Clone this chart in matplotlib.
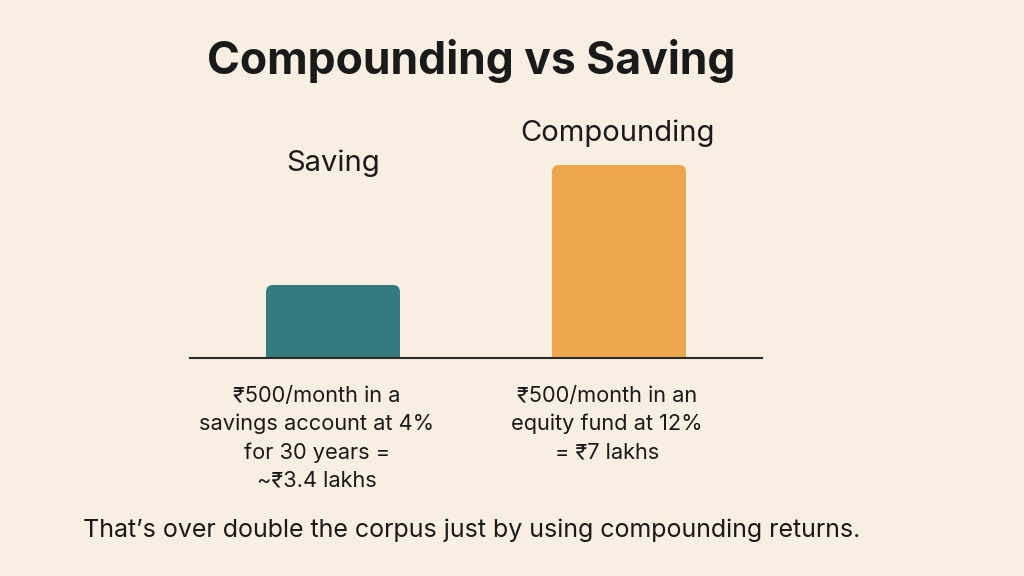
import matplotlib
matplotlib.use("Agg")
import matplotlib.pyplot as plt
from matplotlib.patches import FancyBboxPatch

categories = ["Saving", "Compounding"]
values = [3.4, 7.0]  # lakhs
descriptions = [
    "₹500/month in a\nsavings account at 4%\nfor 30 years =\n~₹3.4 lakhs",
    "₹500/month in an\nequity fund at 12%\n= ₹7 lakhs",
]
title = "Compounding vs Saving"
footer = "That\u2019s over double the corpus just by using compounding returns."

colors = ["#337B80", "#ECA64C"]
bg = "#F8EFE2"
txt = "#1A1A1A"
fam = ["Inter", "DejaVu Sans"]

W, H = 1024, 576
fig = plt.figure(figsize=(W / 100, H / 100), dpi=100, facecolor=bg)

# axes: x 188..762 px, baseline at y=358 px, top at y=100 px
ax = fig.add_axes([190 / W, 1 - 358 / H, 572 / W, 258 / H])
ax.set_facecolor(bg)
ybot, ytop = 1.209, 8.95
ax.set_xlim(-0.5, 1.5)
ax.set_ylim(ybot, ytop)
for s in ["top", "right", "left"]:
    ax.spines[s].set_visible(False)
ax.spines["bottom"].set_color("#2B2B2B")
ax.spines["bottom"].set_linewidth(1.5)
ax.set_xticks([])
ax.set_yticks([])

px_per_x = 572 / 2
bw = 134 / px_per_x
bars = ax.bar(range(len(values)), values, width=bw, color=colors)
px_per_y = 258 / (ytop - ybot)
r_px = 7
for b, c in zip(bars, colors):
    b.set_visible(False)
    p = FancyBboxPatch((b.get_x(), 0), b.get_width(), b.get_height(),
                       boxstyle=f"round,pad=0,rounding_size={r_px / px_per_x}",
                       mutation_aspect=px_per_x / px_per_y,
                       facecolor=c, edgecolor="none", clip_on=True)
    ax.add_patch(p)

fig.text(471 / W, 1 - 61 / H, title, ha="center", va="center",
         fontsize=32, fontweight="bold", color=txt, family=fam)

lab_pos = [(333, 163), (618, 133)]
for (x, y), lab in zip(lab_pos, categories):
    fig.text(x / W, 1 - y / H, lab, ha="center", va="center",
             fontsize=21, color=txt, family=fam)

desc_pos = [(317, 386), (607, 386)]
for (x, y), d in zip(desc_pos, descriptions):
    fig.text(x / W, 1 - y / H, d, ha="center", va="top",
             fontsize=15.7, color=txt, family=fam, linespacing=1.48)

fig.text(472 / W, 1 - 530 / H, footer, ha="center", va="center",
         fontsize=18, color=txt, family=fam)

fig.savefig("out.png", dpi=100, facecolor=bg)
